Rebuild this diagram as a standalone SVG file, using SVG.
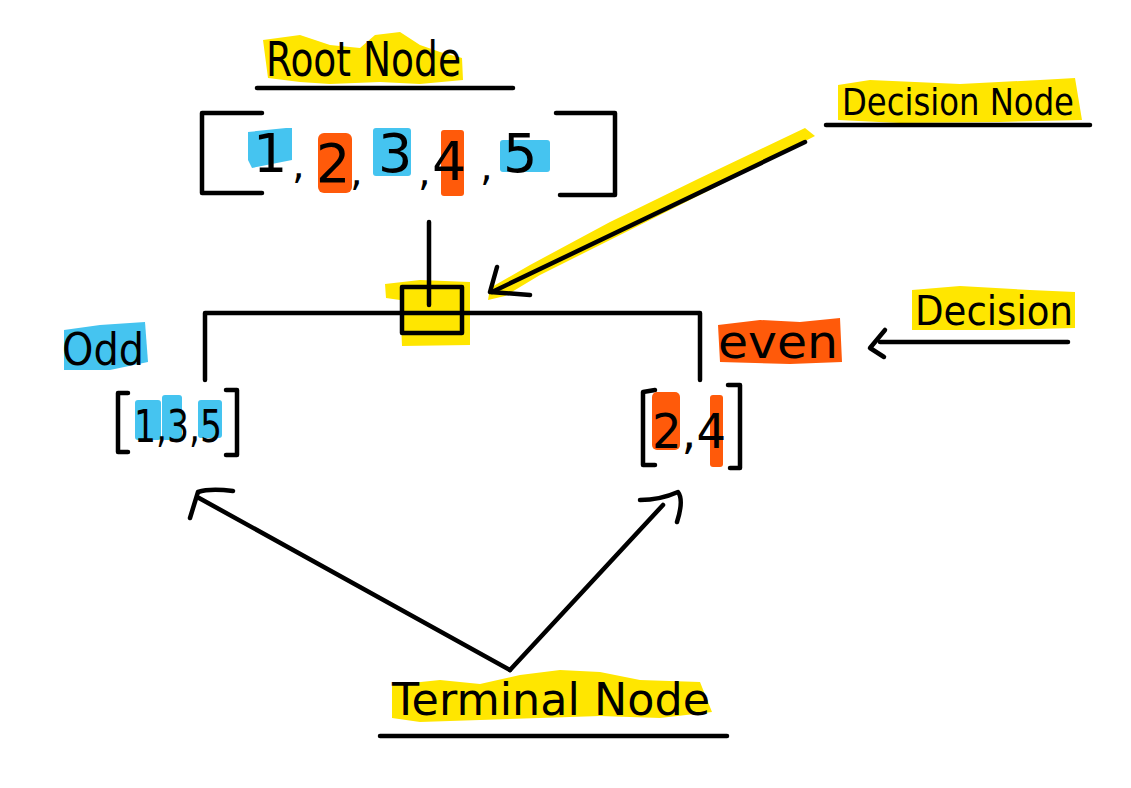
<svg xmlns="http://www.w3.org/2000/svg" width="1131" height="788" viewBox="0 0 1131 788">
<style>
.ink{fill:none;stroke:#000;stroke-width:4.5;stroke-linecap:round;stroke-linejoin:round}
.hy{fill:#FFE600}
.hb{fill:#45C4F0}
.ho{fill:#FF5A0A}
.t{font-family:"DejaVu Sans","Noto Sans",sans-serif;fill:#000}
</style>
<rect width="1131" height="788" fill="#fff"/>

<g id="label-root">
  <path class="hy" d="M263,40 L300,35 L330,45 L360,48 L375,35 L400,32 L420,45 L440,52 L462,58 L463,80 L420,84 L380,82 L330,84 L300,82 L268,78 Z"/>
  <text class="t" x="266" y="76" font-size="48" textLength="195" lengthAdjust="spacingAndGlyphs">Root Node</text>
  <line class="ink" x1="257" y1="88" x2="513" y2="88"/>
</g>

<g id="node-root">
  <path class="ink" d="M262,113 L202,113 L202,193 L262,193"/>
  <path class="ink" d="M556,113 L615,113 L615,195 L560,195"/>
  <polygon class="hb" points="248,132 286,128 292,128 292,160 252,168 248,160"/>
  <rect class="ho" x="318" y="133" width="34" height="60" rx="6"/>
  <rect class="hb" x="373" y="128" width="38" height="48" rx="3"/>
  <rect class="ho" x="441" y="130" width="23" height="66" rx="3"/>
  <rect class="hb" x="500" y="140" width="50" height="32" rx="3"/>
  <g class="t" font-size="54">
    <text x="253" y="172">1</text>
    <text x="292" y="178" font-size="40">,</text>
    <text x="316" y="182">2</text>
    <text x="350" y="185" font-size="40">,</text>
    <text x="378" y="172">3</text>
    <text x="418" y="185" font-size="40">,</text>
    <text x="432" y="180">4</text>
    <text x="480" y="180" font-size="40">,</text>
    <text x="503" y="172">5</text>
  </g>
</g>

<g id="node-decision">
  <path class="hy" d="M385,284 L420,280 L470,282 L470,345 L402,346 L400,300 L386,298 Z"/>
  <rect class="ink" x="402" y="287" width="60" height="46"/>
</g>

<g id="label-decision-node">
  <path class="hy" d="M838,85 L870,80 L960,84 L1040,80 L1075,78 L1082,120 L1000,122 L900,123 L838,120 Z"/>
  <text class="t" x="842" y="115" font-size="38" textLength="232" lengthAdjust="spacingAndGlyphs">Decision Node</text>
  <line class="ink" x1="826" y1="125" x2="1090" y2="125"/>
</g>

<g id="label-decision">
  <path class="hy" d="M912,290 L960,286 L1030,290 L1075,292 L1075,328 L1000,330 L912,330 Z"/>
  <text class="t" x="915" y="325" font-size="40" textLength="158" lengthAdjust="spacingAndGlyphs">Decision</text>
</g>

<g id="label-odd">
  <path class="hb" d="M64,330 L100,325 L145,322 L148,362 L110,370 L64,370 Z"/>
  <text class="t" x="62" y="365" font-size="44" textLength="82" lengthAdjust="spacingAndGlyphs">Odd</text>
</g>

<g id="label-even">
  <path class="ho" d="M718,325 L760,320 L800,322 L840,318 L842,362 L790,364 L720,362 Z"/>
  <text class="t" x="718" y="358" font-size="46" textLength="120" lengthAdjust="spacingAndGlyphs">even</text>
</g>

<g id="node-odd">
  <path class="ink" d="M128,393 L118,393 L118,452 L128,452"/>
  <path class="ink" d="M226,390 L237,390 L237,455 L226,455"/>
  <rect class="hb" x="135" y="400" width="26" height="40" rx="3"/>
  <rect class="hb" x="162" y="395" width="20" height="45" rx="3"/>
  <rect class="hb" x="198" y="400" width="24" height="38" rx="3"/>
  <text class="t" x="134" y="442" font-size="44" textLength="88" lengthAdjust="spacingAndGlyphs">1,3,5</text>
</g>

<g id="node-even">
  <path class="ink" d="M655,390 L643,392 L643,465 L655,465"/>
  <path class="ink" d="M728,385 L740,385 L740,468 L730,468"/>
  <rect class="ho" x="652" y="392" width="28" height="58" rx="5"/>
  <rect class="ho" x="710" y="395" width="13" height="72" rx="3"/>
  <text class="t" x="652" y="448" font-size="48" textLength="74" lengthAdjust="spacingAndGlyphs">2,4</text>
</g>

<g id="label-terminal">
  <path class="hy" d="M392,685 L440,680 L480,684 L520,675 L560,670 L600,672 L640,680 L700,682 L712,712 L660,718 L600,716 L540,718 L480,720 L420,722 L392,718 Z"/>
  <text class="t" x="392" y="715" font-size="44" textLength="318" lengthAdjust="spacingAndGlyphs">Terminal Node</text>
  <line class="ink" x1="380" y1="736" x2="727" y2="736"/>
</g>

<g id="connectors">
  <line class="ink" x1="429" y1="222" x2="429" y2="305"/>
  <path class="ink" d="M205,380 L205,313 L700,313 L700,380"/>
  <path class="hy" d="M805,128 L815,136 L720,185 L620,235 L540,275 L505,296 L488,300 L490,288 L530,265 L610,222 L700,178 Z"/>
  <line class="ink" x1="805" y1="142" x2="492" y2="292"/>
  <path class="ink" d="M497,267 L490,292 L530,295"/>
  <line class="ink" x1="1068" y1="342" x2="880" y2="342"/>
  <path class="ink" d="M885,330 L870,348 L884,357"/>
  <line class="ink" x1="510" y1="670" x2="199" y2="498"/>
  <path class="ink" d="M190,518 L198,492 Q210,488 233,491"/>
  <line class="ink" x1="510" y1="670" x2="663" y2="505"/>
  <path class="ink" d="M640,500 Q660,500 678,492 Q684,500 677,522"/>
</g>
</svg>
